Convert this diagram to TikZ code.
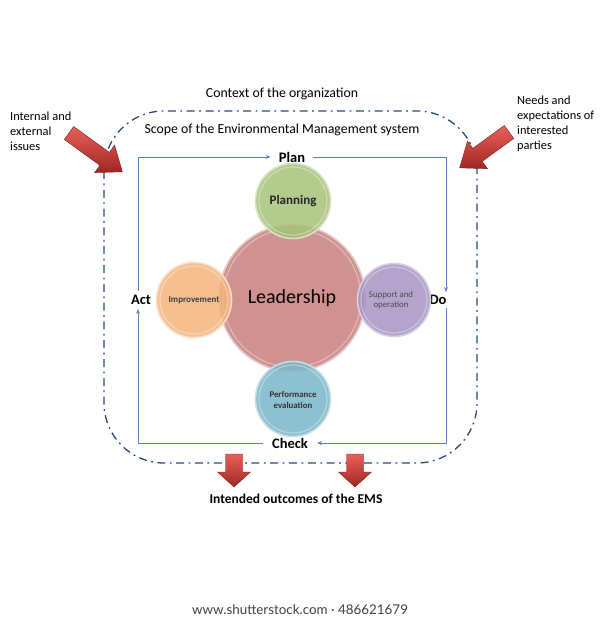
\documentclass[tikz,border=0pt]{standalone}
\usepackage{fontspec}
\setmainfont{Carlito}
\newfontfamily\latofont{Lato}
\usetikzlibrary{arrows.meta,calc}
\definecolor{framenavy}{HTML}{2B4A7A}
\definecolor{loopblue}{HTML}{5B85C0}
\definecolor{cgreen}{HTML}{A6C279}
\definecolor{cred}{HTML}{C7807E}
\definecolor{corange}{HTML}{F4B47C}
\definecolor{cpurple}{HTML}{A794C2}
\definecolor{cblue}{HTML}{7AB7C9}
\definecolor{arrowred}{HTML}{C8302B}
\definecolor{arrowlight}{HTML}{E8605A}
\begin{document}
\begin{tikzpicture}[x=1pt,y=-1pt,
  ball/.style={circle, draw=#1!45!white, line width=1.6pt, fill=#1, fill opacity=0.85,
    text opacity=1, inner sep=0pt, minimum size=75pt, align=center},
  gloss/.style={draw=white, draw opacity=0.35, line width=1.2pt},
  loopline/.style={draw=loopblue, line width=0.8pt, -{Stealth[length=5pt,width=4pt]}},
  pdca/.style={font=\fontsize{14.5}{17}\selectfont\bfseries, inner xsep=8pt, inner ysep=3pt},
  frame/.style={draw=framenavy, line width=1.3pt, dash pattern=on 8pt off 4.5pt on 1.8pt off 4.5pt},
  lbl/.style={font=\fontsize{13.8}{16}\selectfont},
  side/.style={font=\fontsize{12.4}{15}\selectfont, align=left, inner sep=0pt},
  pics/redarrow/.style n args={4}{code={
    \shade[top color=arrowlight, bottom color=arrowred!80!black, draw=arrowred!60!black, line width=0.4pt]
      (0,-#2) -- (#1-#4,-#2) -- (#1-#4,-#3) -- (#1,0) -- (#1-#4,#3) -- (#1-#4,#2) -- (0,#2) -- cycle;
  }}
]
\useasboundingbox[fill=white] (0,0) rectangle (600,620);

% outer context frame
\draw[frame, rounded corners=60pt] (104,111) rectangle (477,463);

% titles
\node[lbl] (context) at (282,94) {Context of the organization};
\node[lbl] (scope) at (282,130) {Scope of the Environmental Management system};

% PDCA labels
\node[pdca] (plan) at (292,157) {Plan};
\node[pdca, inner xsep=2pt] (do) at (438,300) {Do};
\node[pdca, inner xsep=9pt] (check) at (290,443) {Check};
\node[pdca, inner xsep=2pt, inner ysep=4pt] (act) at (141,300) {Act};

\coordinate (TL) at (138,157);
\coordinate (TR) at (446,157);
\coordinate (BR) at (446,442);
\coordinate (BL) at (138,442);

% PDCA loop
\draw[loopline] (act.north -| TL) |- (plan.west);
\draw[loopline] (plan.east) -| (do.north -| TR);
\draw[loopline] (do.south -| TR) |- (check.east);
\draw[loopline] (check.west) -| (act.south -| BL);

% circles
\node[ball=cred, minimum size=146pt] (lead) at (292,298) {};
\draw[gloss] (lead) circle (69pt);
\node[ball=cgreen] (planning) at (293,201) {};
\draw[gloss] (planning) circle (34pt);
\node[ball=corange] (improve) at (194,300) {};
\draw[gloss] (improve) circle (34pt);
\node[ball=cpurple, minimum size=73pt] (support) at (394,300) {};
\draw[gloss] (support) circle (33pt);
\node[ball=cblue] (perf) at (293,399) {};
\draw[gloss] (perf) circle (34pt);

\node[font=\fontsize{20}{24}\selectfont] at (lead) {Leadership};
\node[font=\fontsize{13}{15}\selectfont\bfseries, text=black!85] at (planning) {Planning};
\node[font=\fontsize{9}{11}\selectfont\bfseries, text=black!75] at (improve) {Improvement};
\node[font=\fontsize{8.8}{10.5}\selectfont, text=black!70, align=center] at ([xshift=-3pt]support.center) {Support and\\operation};
\node[font=\fontsize{8.8}{10.5}\selectfont\bfseries, text=black!80, align=center] at ([yshift=-1pt]perf.center) {Performance\\evaluation};

% side texts
\node[side, anchor=north west] (internal) at (10,112) {Internal and\\external\\issues};
\node[side, anchor=north west] (needs) at (517,96) {Needs and\\expectations of\\interested\\parties};

% red block arrows
\pic[rotate=-36] at (69,133) {redarrow={66}{8}{17}{22}};
\pic[rotate=216] at (509,132) {redarrow={61}{8}{17}{22}};
\pic[rotate=-90] at (234,454) {redarrow={33}{8.5}{16.5}{15}};
\pic[rotate=-90] at (355,454) {redarrow={33}{8.5}{16.5}{15}};

\node[font=\fontsize{13.5}{16}\selectfont\bfseries] (outcomes) at (296,499) {Intended outcomes of the EMS};

\node[font=\latofont\fontsize{13.4}{16}\selectfont, text=black!75] (url) at (300,610) {www.shutterstock.com · 486621679};
\end{tikzpicture}
\end{document}
